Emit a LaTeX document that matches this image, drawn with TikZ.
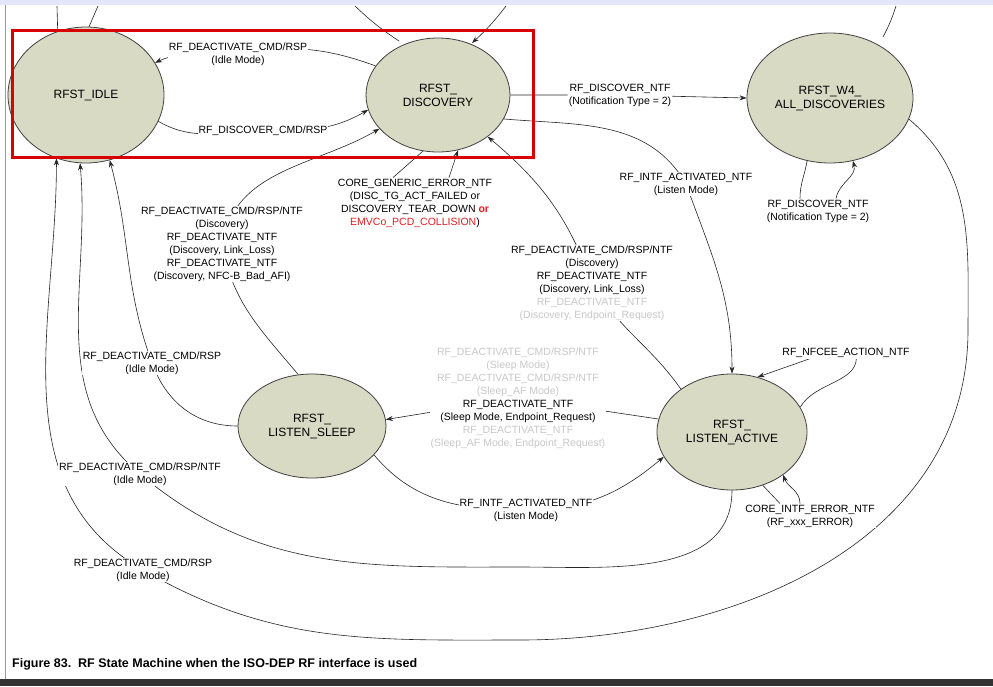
\documentclass[tikz,border=0pt]{standalone}
\usepackage{fontspec}
\setmainfont{Liberation Sans}
\usetikzlibrary{arrows.meta,shapes.geometric,backgrounds}
\definecolor{nodefill}{RGB}{216,218,196}
\definecolor{faint}{RGB}{200,200,200}
\definecolor{nfcred}{RGB}{225,30,36}
\begin{document}
\begin{tikzpicture}[x=1pt,y=-1pt,
  state/.style={ellipse,draw=black!75,fill=nodefill,line width=0.8pt,align=center,font=\fontsize{12}{14}\selectfont,inner sep=0pt},
  lbl/.style={fill=white,align=center,inner sep=1pt,font=\fontsize{10.5}{13}\selectfont},
  edge/.style={draw=black!85,line width=0.6pt},
  arr/.style={edge,-{Stealth[length=7pt,width=5pt]}}]
\useasboundingbox (0,0) rectangle (993,686);
% states
\node[state,minimum width=156pt,minimum height=136pt] (idle) at (86,95) {RFST\_IDLE};
\node[state,minimum width=144pt,minimum height=114pt] (disc) at (438,95) {RFST\_\\DISCOVERY};
\node[state,minimum width=166pt,minimum height=130pt] (w4) at (830,98) {RFST\_W4\_\\ALL\_DISCOVERIES};
\node[state,minimum width=148pt,minimum height=104pt] (sleep) at (312,426) {RFST\_\\LISTEN\_SLEEP};
\node[state,minimum width=150pt,minimum height=116pt] (act) at (732,432) {RFST\_\\LISTEN\_ACTIVE};
% labels
\node[lbl] (l1) at (238,54) {RF\_DEACTIVATE\_CMD/RSP\\(Idle Mode)};
\node[lbl] (l2) at (263,131) {RF\_DISCOVER\_CMD/RSP};
\node[lbl] (l3) at (620,95) {RF\_DISCOVER\_NTF\\(Notification Type = 2)};
\node[lbl] (l4) at (818,211) {RF\_DISCOVER\_NTF\\(Notification Type = 2)};
\node[lbl] (l5) at (415,203) {CORE\_GENERIC\_ERROR\_NTF\\(DISC\_TG\_ACT\_FAILED or\\DISCOVERY\_TEAR\_DOWN \textcolor{nfcred}{\textbf{or}}\\\textcolor{nfcred}{EMVCo\_PCD\_COLLISION})};
\node[lbl] (l6) at (222,244) {RF\_DEACTIVATE\_CMD/RSP/NTF\\(Discovery)\\RF\_DEACTIVATE\_NTF\\(Discovery, Link\_Loss)\\RF\_DEACTIVATE\_NTF\\(Discovery, NFC-B\_Bad\_AFI)};
\node[lbl] (l7) at (592,283) {RF\_DEACTIVATE\_CMD/RSP/NTF\\(Discovery)\\RF\_DEACTIVATE\_NTF\\(Discovery, Link\_Loss)\\\textcolor{faint}{RF\_DEACTIVATE\_NTF}\\\textcolor{faint}{(Discovery, Endpoint\_Request)}};
\node[lbl] (l8) at (686,184) {RF\_INTF\_ACTIVATED\_NTF\\(Listen Mode)};
\node[lbl] (l9) at (518,398) {\textcolor{faint}{RF\_DEACTIVATE\_CMD/RSP/NTF}\\\textcolor{faint}{(Sleep Mode)}\\\textcolor{faint}{RF\_DEACTIVATE\_CMD/RSP/NTF}\\\textcolor{faint}{(Sleep\_AF Mode)}\\RF\_DEACTIVATE\_NTF\\(Sleep Mode, Endpoint\_Request)\\\textcolor{faint}{RF\_DEACTIVATE\_NTF}\\\textcolor{faint}{(Sleep\_AF Mode, Endpoint\_Request)}};
\node[lbl] (l10) at (526,510) {RF\_INTF\_ACTIVATED\_NTF\\(Listen Mode)};
\node[lbl] (l11) at (846,353) {RF\_NFCEE\_ACTION\_NTF};
\node[lbl] (l12) at (810,516) {CORE\_INTF\_ERROR\_NTF\\(RF\_xxx\_ERROR)};
\node[lbl] (l13) at (152,363) {RF\_DEACTIVATE\_CMD/RSP\\(Idle Mode)};
\node[lbl] (l14) at (140,474) {RF\_DEACTIVATE\_CMD/RSP/NTF\\(Idle Mode)};
\node[lbl] (l15) at (143,570) {RF\_DEACTIVATE\_CMD/RSP\\(Idle Mode)};
\node[anchor=west,inner sep=0pt,font=\fontsize{12.5}{14}\selectfont\bfseries] (cap) at (12,664) {Figure 83.\ \ RF State Machine when the ISO-DEP RF interface is used};
% free ends at top
\coordinate (t1) at (57,6); \coordinate (t2) at (98,6);
\coordinate (t3) at (355,6); \coordinate (t4) at (506,6); \coordinate (t5) at (896,6);
\begin{scope}[on background layer]
\fill[white] (0,0) rectangle (993,686);
\fill[black!15!blue!10] (0,0) rectangle (993,5);
\fill[black!80] (0,679) rectangle (993,686);
\draw[black!40] (5,5) -- (5,679);
\draw[arr] (t1) -- (58,42);
\draw[edge] (t2) -- (85,36);
\draw[edge] (t3) to[bend right=5] (399,41);
\draw[arr] (t4) to[bend left=5] (472,43);
\draw[edge] (t5) to[bend left=5] (883,37);
% disc -> idle
\draw[arr] (disc.155) to[out=160,in=10] (l1.center) to[out=190,in=25] (idle.25);
% idle -> disc
\draw[arr] (idle.-20) to[out=-30,in=180] (l2.center) to[out=0,in=-150] (disc.192);
% disc -> w4
\draw[arr] (disc.east) -- (l3) -- (w4.west);
% w4 self
\draw[edge] (w4.-110) to[out=-100,in=90] ([xshift=-18pt]l4.north);
\draw[arr] ([xshift=18pt]l4.north) to[out=80,in=-75] (w4.-70);
% core generic
\draw[edge] (disc.-105) -- ([xshift=-22pt]l5.north);
\draw[arr] ([xshift=34pt]l5.north) -- (disc.-70);
% sleep -> disc
\draw[edge] (sleep.105) to[out=130,in=-80] (l6.center);
\draw[arr] (l6.center) to[out=80,in=-150] (disc.-150);
% active -> disc
\draw[edge] (act.140) to[out=125,in=-60] (l7.center);
\draw[arr] (l7.center) to[out=110,in=-40] (disc.-40);
% disc -> active
\draw[edge] (disc.-20) to[out=-5,in=120] (l8.center);
\draw[arr] (l8.center) to[out=-70,in=90] (act.north);
% active -> sleep
\draw[arr] (act.170) -- (l9.center) -- (sleep.5);
% sleep -> active
\draw[edge] (sleep.-25) to[out=-50,in=180] (l10.center);
\draw[arr] (l10.center) to[out=0,in=-140] (act.200);
% nfcee self
\draw[arr] ([xshift=-20pt]l11.center) -- (act.65);
\draw[edge] (act.20) to[out=60,in=-80] ([xshift=10pt]l11.center);
% core intf error
\draw[edge] (act.-60) -- ([xshift=-30pt]l12.north);
\draw[arr] ([xshift=-10pt]l12.north) to[out=90,in=-70] (act.-40);
% sleep -> idle
\draw[edge] (sleep.west) to[out=180,in=-70] (l13.center);
\draw[arr] (l13.center) to[out=110,in=-75] (idle.-70);
% active -> idle
\draw[edge] (act.-90) to[out=-90,in=0] (520,567) to[out=180,in=-40] (l14.center);
\draw[arr] (l14.center) to[out=140,in=-85] (idle.-95);
% w4 -> idle
\draw[edge] (w4.-15) to[out=-40,in=90] (968,330) to[out=-90,in=0] (520,640) to[out=180,in=-30] (l15.center);
\draw[arr] (l15.center) to[out=150,in=-90] (idle.-115);
\end{scope}
\draw[red!85!black,line width=3pt] (12,30) rectangle (533,157);
\end{tikzpicture}
\end{document}
